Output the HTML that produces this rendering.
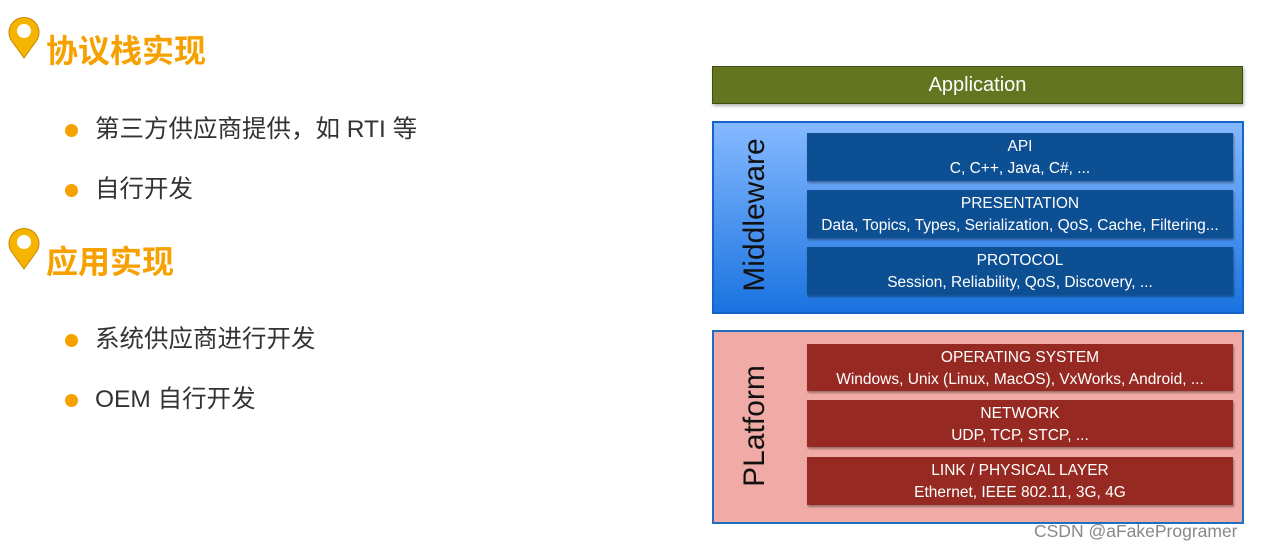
<!DOCTYPE html>
<html><head><meta charset="utf-8"><style>
body{margin:0;width:1263px;height:551px;background:#fff;position:relative;overflow:hidden;font-family:"Liberation Sans","Noto Sans CJK SC",sans-serif}
.a{position:absolute}
.t{color:#f7a100;font-weight:bold;font-size:32px;line-height:34px}
.b{font-size:24.5px;color:#333;line-height:30px}
.dot{width:13px;height:13px;border-radius:50%;background:#f7a100}
.in{position:absolute;left:807px;width:426px;color:#fff;text-align:center;font-size:15.5px;line-height:22px;box-shadow:1px 2px 2px rgba(0,0,0,.35);padding-top:3px;box-sizing:border-box}
.bl{background:#0d4f93}
.rd{background:#962a22}
.rot{position:absolute;transform:translate(-50%,-50%) rotate(-90deg);font-size:30px;color:#111;white-space:nowrap}
</style></head><body>
<svg class="a" style="left:6px;top:16px" width="36" height="44" viewBox="0 0 36 44"><path d="M18 42 L5 24 A15 15 0 1 1 31 24 Z" fill="#f4b400" stroke="#c98a00" stroke-width="1"/><circle cx="18" cy="15" r="7" fill="#fff"/></svg>
<div class="a t" style="left:46px;top:34px">协议栈实现</div>
<div class="a dot" style="left:65px;top:124px"></div><div class="a b" style="left:95px;top:115px">第三方供应商提供，如 RTI 等</div>
<div class="a dot" style="left:65px;top:184px"></div><div class="a b" style="left:95px;top:175px">自行开发</div>
<svg class="a" style="left:6px;top:227px" width="36" height="44" viewBox="0 0 36 44"><path d="M18 42 L5 24 A15 15 0 1 1 31 24 Z" fill="#f4b400" stroke="#c98a00" stroke-width="1"/><circle cx="18" cy="15" r="7" fill="#fff"/></svg>
<div class="a t" style="left:46px;top:245px">应用实现</div>
<div class="a dot" style="left:65px;top:334px"></div><div class="a b" style="left:95px;top:325px">系统供应商进行开发</div>
<div class="a dot" style="left:65px;top:394px"></div><div class="a b" style="left:95px;top:385px">OEM 自行开发</div>

<div class="a" style="left:712px;top:66px;width:529px;height:36px;background:#63751f;border:1px solid #3f4d12;color:#fff;font-size:20px;line-height:37px;text-align:center;box-shadow:1px 2px 3px rgba(0,0,0,.3)">Application</div>
<div class="a" style="left:712px;top:121px;width:528px;height:189px;background:linear-gradient(#85b9ff,#1a73e0);border:2px solid #1565c8"></div>
<div class="rot" style="left:755px;top:215px">Middleware</div>
<div class="in bl" style="top:133px;height:48px">API<br>C, C++, Java, C#, ...</div>
<div class="in bl" style="top:190px;height:48px">PRESENTATION<br>Data, Topics, Types, Serialization, QoS, Cache, Filtering...</div>
<div class="in bl" style="top:247px;height:48px">PROTOCOL<br>Session, Reliability, QoS, Discovery, ...</div>

<div class="a" style="left:712px;top:330px;width:528px;height:190px;background:#f0aba6;border:2px solid #1f6fc0"></div>
<div class="rot" style="left:755px;top:426px">PLatform</div>
<div class="in rd" style="top:344px;height:47px">OPERATING SYSTEM<br>Windows, Unix (Linux, MacOS), VxWorks, Android, ...</div>
<div class="in rd" style="top:400px;height:47px">NETWORK<br>UDP, TCP, STCP, ...</div>
<div class="in rd" style="top:457px;height:48px">LINK / PHYSICAL LAYER<br>Ethernet, IEEE 802.11, 3G, 4G</div>
<div class="a" style="left:1034px;top:521px;font-size:17.5px;color:#888">CSDN @aFakeProgramer</div>
</body></html>
